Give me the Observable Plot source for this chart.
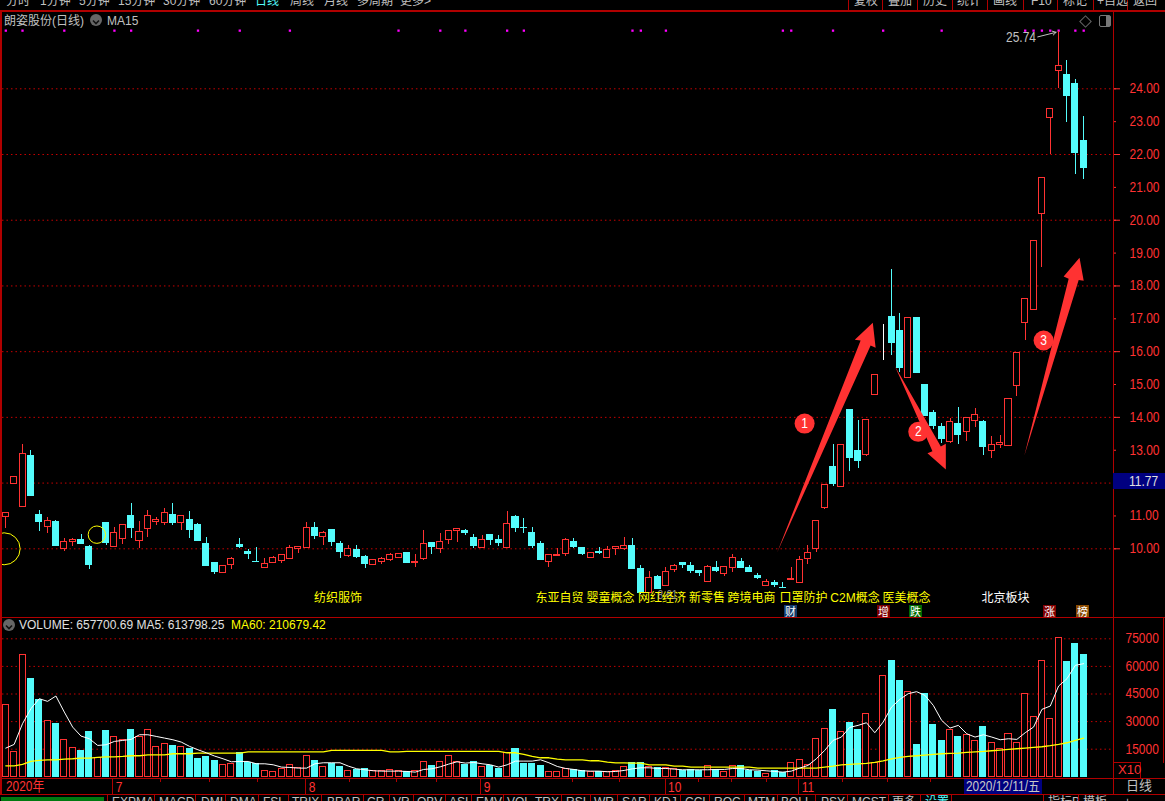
<!doctype html>
<html><head><meta charset="utf-8">
<script src="https://cdn.jsdelivr.net/npm/d3@7"></script>
<script src="https://cdn.jsdelivr.net/npm/@observablehq/plot@0.6"></script>
<style>
html,body{margin:0;padding:0;background:#000;overflow:hidden}
#root{position:relative;width:1165px;height:801px;overflow:hidden;background:#000;font-family:"Liberation Sans","Noto Sans CJK SC",sans-serif}
#root>svg{position:absolute;left:0;background:transparent;max-width:none}
.t{position:absolute;white-space:nowrap;font-size:12px;line-height:14px;color:#c0c0c0;transform-origin:left center}
.b{position:absolute;background:#b00000}
</style></head><body><div id="root"></div>
<script>
const opens=[10.96,11.97,11.27,12.81,11.04,10.66,10.83,9.99,10.21,10.28,10.07,10.49,10.80,10.07,10.29,11.01,10.23,10.60,10.81,10.78,11.04,10.78,10.89,10.71,10.16,9.58,9.26,9.50,10.13,9.89,9.61,9.41,9.56,9.62,9.69,9.99,10.02,10.62,10.35,10.56,10.16,9.77,9.95,9.74,9.52,9.59,9.66,9.72,9.86,9.58,9.69,10.19,9.99,10.26,10.55,10.53,10.34,10.02,10.41,10.28,10.02,10.98,10.63,10.47,10.16,9.61,9.77,9.84,10.22,10.01,9.72,9.89,9.72,9.99,9.99,10.10,9.40,8.67,9.13,8.86,9.36,9.58,9.49,9.31,8.99,9.43,9.24,9.41,9.61,9.43,9.16,8.88,8.95,8.82,9.05,8.96,9.69,9.99,11.25,12.50,11.87,14.22,12.98,12.86,14.69,16.82,17.04,16.62,15.20,17.01,14.98,14.13,13.71,13.25,13.80,13.54,13.89,13.86,12.99,13.15,13.14,14.97,16.86,17.28,20.20,23.11,24.54,24.43,24.16,22.40];
const closes=[11.10,12.19,12.89,11.60,10.81,10.85,10.10,10.21,10.27,10.16,9.52,10.49,10.19,10.49,10.73,10.63,10.52,11.00,10.88,11.10,10.80,11.00,10.56,10.25,9.49,9.28,9.49,9.68,10.07,9.83,9.60,9.54,9.73,9.82,10.03,10.04,10.62,10.38,10.47,10.20,9.89,9.98,9.74,9.55,9.67,9.68,9.82,9.85,9.58,9.61,10.15,10.07,10.21,10.55,10.61,10.48,10.10,10.27,10.28,10.19,10.76,10.62,10.62,10.10,9.65,9.80,9.82,10.27,10.04,9.83,9.88,9.86,9.97,10.06,10.09,9.40,8.67,9.10,8.79,9.30,9.48,9.50,9.31,9.26,9.46,9.31,9.45,9.73,9.43,9.28,9.10,9.00,8.91,8.80,9.09,9.67,9.88,10.85,11.95,11.96,13.17,12.77,12.68,13.91,15.30,16.82,16.25,15.49,17.03,15.34,14.04,13.74,13.34,13.85,13.46,13.97,14.06,13.10,13.15,13.22,14.56,15.97,17.59,19.37,21.28,23.39,24.70,23.78,22.04,21.59];
const highs=[11.10,12.19,13.17,12.99,11.17,10.94,10.86,10.31,10.31,10.44,10.10,10.49,10.80,10.65,10.73,11.38,10.83,11.17,10.95,11.23,11.38,11.00,11.14,10.77,10.34,9.58,9.49,9.74,10.31,9.98,10.04,9.71,9.76,9.82,10.09,10.07,10.80,10.80,10.53,10.59,10.22,10.10,10.10,9.80,9.67,9.74,9.86,9.85,9.89,9.83,10.56,10.19,10.47,10.55,10.61,10.59,10.44,10.41,10.41,10.41,11.14,11.01,10.92,10.65,10.22,9.83,10.01,10.30,10.31,10.01,9.88,10.04,10.07,10.06,10.34,10.31,9.49,9.31,9.19,9.43,9.52,9.58,9.58,9.34,9.49,9.61,9.45,9.83,9.71,9.49,9.25,9.07,9.04,8.98,9.43,9.77,10.10,10.85,11.95,13.17,13.17,14.25,13.92,13.91,15.30,16.82,18.49,17.16,17.03,17.01,15.01,14.22,13.80,13.98,14.31,13.97,14.28,13.92,13.43,13.46,14.56,15.97,17.59,19.37,21.28,23.39,25.74,24.86,24.28,23.16];
const lows=[10.63,11.97,11.27,11.60,10.53,10.48,10.08,9.93,10.08,10.13,9.38,10.49,10.10,10.04,10.13,10.31,10.01,10.34,10.71,10.71,10.71,10.56,10.31,10.22,9.46,9.22,9.26,9.37,10.01,9.68,9.60,9.41,9.56,9.56,9.69,9.86,10.02,10.28,10.10,10.07,9.71,9.74,9.71,9.40,9.49,9.53,9.61,9.72,9.58,9.43,9.65,9.83,9.86,10.13,10.19,10.41,10.01,10.02,10.10,10.07,10.02,10.50,10.47,10.01,9.65,9.43,9.77,9.77,10.01,9.80,9.72,9.83,9.72,9.80,9.96,9.40,8.61,8.64,8.79,8.86,9.29,9.40,9.25,9.16,8.99,9.28,9.16,9.28,9.43,9.28,9.07,8.88,8.82,8.80,9.05,8.96,9.52,9.89,11.19,11.90,11.87,12.34,12.43,12.80,14.69,15.74,15.89,15.37,15.20,15.34,14.04,13.62,13.22,13.22,13.16,13.28,13.68,12.83,12.74,13.04,13.14,14.63,16.34,17.28,18.57,22.00,24.00,22.98,21.40,21.25];
const volumes=[39180,13600,66390,52970,41540,30480,28480,20135,15780,13790,24130,10160,24670,21770,20135,25215,21770,25215,16330,17960,16510,16330,14875,9430,10520,8345,6530,7075,13060,7255,6710,3265,2720,4350,6530,4715,11430,8345,5440,6710,5080,3265,3450,4350,2900,2900,3810,2900,2540,3080,8160,5620,8160,11430,8160,6170,8160,5440,5620,3990,13060,14875,6890,6890,5620,2720,2720,4350,3810,3080,2720,2360,2540,3080,5440,7255,7255,5440,4535,4535,4350,3080,3810,2900,5990,3810,2720,5990,5620,2900,2360,1630,2900,2000,7620,9250,6350,20680,25760,36100,24130,29020,25215,34285,7620,54600,62760,51880,46260,17050,44990,27940,19230,25580,21400,22490,19590,26850,18500,15240,23400,18500,45170,32650,63130,31560,75640,62220,72020,66030];
const ma5=[15600,17600,28840,37000,42450,41000,43900,35190,27030,22130,20680,17050,17410,19230,19770,20320,22860,22860,21950,21040,20135,18870,16510,14690,13060,11250,9800,8160,8340,8340,7075,7075,6530,5260,5080,4720,4720,7075,7620,7620,7620,5800,4350,3810,3265,3080,3080,3080,2900,2540,3990,4350,5440,6890,8160,7440,7800,7075,6530,5260,6530,8530,8530,8530,9250,7620,5620,4535,3990,3265,3080,3080,2720,2900,3450,4350,4900,4900,4535,4535,4170,3810,3810,3810,3810,3990,3990,4535,4535,3810,3630,3265,2900,2540,3080,4720,6170,9800,14330,19770,21590,26850,27940,29390,23950,29750,37910,42080,45170,46260,44260,38820,30660,26480,27940,23400,21590,22860,21590,20135,20680,20320,23950,27030,36640,38460,49340,53330,60590,61490];
const ma60=[5990,5990,6710,8340,8890,9250,9250,9610,9800,10160,10160,10520,10880,10880,11070,11430,11430,11970,11970,11970,12520,12520,12520,12880,12880,12880,12880,12880,12880,13600,13600,13600,13600,13600,13600,13600,13600,13600,13600,14330,14330,14330,14330,14330,14330,14330,13600,13600,13790,13790,13790,13790,13790,13790,13790,13790,13790,13790,13790,13790,13060,13060,12150,11070,10340,10340,9610,9250,9250,9250,8710,8710,7980,7620,7620,7440,7440,6530,6530,6530,5800,5800,5260,5260,5260,5260,5260,5260,5260,5260,4720,4720,4720,4720,4720,4720,4720,4720,5260,5800,6530,6700,7075,7260,7800,8700,9800,10500,11070,11430,11800,12150,12520,12700,12880,13240,13600,13800,14150,14500,14900,15240,15600,15960,16330,16900,17600,18500,19770,21040];
const signalDays=[0,2,7,13,15,23,28,34,47,52,55,60,62,75,76,79,93,94,99,105,112,122,123,124,125,126,128,129];
const priceTicks=[10,11,13,14,15,16,17,18,19,20,21,22,23,24];
const priceGrid=[10,12,14,16,18,20,22,24];
const volumeTicks=[15000,30000,45000,60000,75000];
const conceptNames=["纺织服饰","东亚自贸","婴童概念","网红经济","新零售","跨境电商","口罩防护","C2M概念","医美概念","北京板块"];
const conceptDays=[39.76,66.27,72.37,78.53,83.91,89.24,95.46,101.63,107.79,119.64];
const monthNames=["7","8","9","10","11"];
const monthDays=[12.8,35.9,56.85,78.9,94.9];
const minorDays=[18.5,24.4,30.1,41.1,46.8,51.6,67.8,73.4,82.9,86.9,91,100.1,105.5,110.7];
const arrowOne=[[92.3,9.88],[102.3,16.34],[101.6,16.36],[103.76,16.88],[104.1,16.12],[103.5,16.19]];
const arrowTwo=[[106.4,15.56],[111.9,13.11],[112.5,13.2],[112.5,12.41],[110.3,12.91],[110.9,12.97]];
const arrowThree=[[121.9,12.84],[127.2,18.22],[126.6,18.29],[128.5,18.86],[129,18.16],[128.4,18.18]];
const badgeDays=[95.6,109.2,124.2];
const badgePrices=[13.81,13.56,16.34];
const badgeText=["1","2","3"];
const periodNames=["分时","1分钟","5分钟","15分钟","30分钟","60分钟","日线","周线","月线","多周期","更多>"];
const toolNames=["复权","叠加","历史","统计","画线","F10","标记","+自选","返回"];
const indicatorNames=["EXPMA","MACD","DMI","DMA","FSL","TRIX","BRAR","CR","VR","OBV","ASI","EMV","VOL-TRX","RSI","WR","SAR","KDJ","CCI","ROC","MTM","BOLL","PSY","MCST","更多","设置","指标B","模板","+"];

const RED="#ff3232",CYAN="#54fcfc",SANS='"Liberation Sans","Noto Sans CJK SC",sans-serif';
const days=opens.map((o,i)=>({i,o,c:closes[i],h:highs[i],l:lows[i],v:volumes[i],ma5:ma5[i],ma60:ma60[i],
  up:closes[i]>opens[i],flat:closes[i]===opens[i]}));
const tone=d=>d.flat?"#ffffff":d.up?RED:CYAN;
const xs={domain:[0,129],range:[5.3,1083.2]};
const root=document.getElementById("root");
const hw=0.36;
const poly=a=>Plot.line(a,{x:d=>d[0],y:d=>d[1],fill:RED,stroke:"none"});

const price=Plot.plot({
  width:1165,height:607,marginLeft:0,marginRight:52,marginTop:0,marginBottom:0,
  x:{...xs,axis:null},
  y:{domain:[10,24],range:[537.3,77.3]},
  style:{background:"transparent",fontFamily:SANS},
  marks:[
    Plot.ruleY(priceGrid,{stroke:"#c80000",strokeDasharray:"1.5,3",x1:-0.4,x2:132.5}),
    Plot.axisY(priceTicks,{anchor:"right",tickSize:2,tickFormat:()=>"",label:null,color:RED}),
    Plot.axisY(priceTicks.filter(t=>t%2===0),{anchor:"right",tickSize:6,tickFormat:()=>"",label:null,color:RED}),
    Plot.axisY(priceTicks,{anchor:"right",tickSize:0,tickPadding:16,tickFormat:d=>d.toFixed(2),label:null,color:RED,fontSize:14}),
    Plot.dot(signalDays,{x:d=>d,y:()=>25.77,symbol:"square",r:1.3,fill:"#ff00ff"}),
    Plot.ruleX(days,{x:"i",y1:"l",y2:"h",stroke:tone,strokeWidth:1,shapeRendering:"crispEdges"}),
    Plot.rect(days,{x1:d=>d.i-hw,x2:d=>d.i+hw,y1:"o",y2:"c",fill:d=>d.up?"#000":tone(d),stroke:tone,strokeWidth:1,shapeRendering:"crispEdges"}),
    Plot.dot([[-0.2,10]],{x:d=>d[0],y:d=>d[1],r:16,stroke:"#ffff00",fill:"none",strokeWidth:1}),
    Plot.dot([[10.9,10.43]],{x:d=>d[0],y:d=>d[1],r:8.7,stroke:"#ffff00",fill:"none",strokeWidth:1}),
    poly(arrowOne),poly(arrowTwo),poly(arrowThree),
    Plot.dot(badgeDays,{x:d=>d,y:(d,i)=>badgePrices[i],r:10,fill:RED}),
    Plot.text(badgeText,{x:(d,i)=>badgeDays[i],y:(d,i)=>badgePrices[i],text:d=>d,fill:"#fff",fontSize:14}),
    Plot.text(["8.61"],{x:()=>79.2,y:()=>8.6,text:d=>d,fill:"#909090",fontSize:12}),
    Plot.text(conceptNames,{x:(d,i)=>conceptDays[i],y:()=>8.49,text:d=>d,fill:(d,i)=>i===9?"#ffffff":"#ffff00",fontSize:12}),
    Plot.text(["25.74"],{x:()=>121.5,y:()=>25.55,text:d=>d,fill:"#c0c0c0",fontSize:14}),
    Plot.arrow([1],{x1:()=>123.5,y1:()=>25.58,x2:()=>125.7,y2:()=>25.72,stroke:"#c0c0c0",strokeWidth:1,headLength:6}),
  ]
});
price.style.top="11px";root.appendChild(price);

const volume=Plot.plot({
  width:1165,height:176,marginLeft:0,marginRight:52,marginTop:0,marginBottom:16,
  x:{...xs,axis:null},
  y:{domain:[0,75000],range:[158.3,20.3]},
  style:{background:"transparent",fontFamily:SANS},
  marks:[
    Plot.ruleY(volumeTicks,{stroke:"#c80000",strokeDasharray:"1.5,3",x1:-0.4,x2:132.5}),
    Plot.axisY(volumeTicks,{anchor:"right",tickSize:0,tickPadding:12,tickFormat:d=>String(d),label:null,color:RED,fontSize:14}),
    Plot.rect(days,{x1:d=>d.i-hw,x2:d=>d.i+hw,y1:()=>0,y2:"v",fill:d=>(d.up||d.flat)?"#000":CYAN,stroke:d=>(d.up||d.flat)?RED:CYAN,strokeWidth:1,shapeRendering:"crispEdges"}),
    Plot.line(days,{x:"i",y:"ma60",stroke:"#ffff00",strokeWidth:1.3}),
    Plot.line(days,{x:"i",y:"ma5",stroke:"#ffffff",strokeWidth:1}),
    Plot.text(monthNames,{x:(d,i)=>monthDays[i],text:d=>d,frameAnchor:"bottom",dy:13,dx:3,textAnchor:"start",fill:RED,fontSize:14}),
  ]
});
volume.style.top="618px";root.appendChild(volume);

// the terminal's digits are narrow: condense all numeric labels
for(const svg of [price,volume]) svg.querySelectorAll("text").forEach(t=>{
  if(/^[\d.]+$/.test(t.textContent.trim())){
    const len=t.getComputedTextLength();
    if(len>0){t.setAttribute("textLength",(len*0.855).toFixed(1));t.setAttribute("lengthAdjust","spacingAndGlyphs");}
  }
});

function line(x,y,w,h,c){const d=document.createElement("div");d.className="b";d.style.cssText=`left:${x}px;top:${y}px;width:${w}px;height:${h}px;${c?"background:"+c:""}`;root.appendChild(d);return d}
function txt(x,y,s,c,extra){const d=document.createElement("div");d.className="t";d.style.cssText=`left:${x}px;top:${y}px;${c?"color:"+c+";":""}${extra||""}`;d.textContent=s;root.appendChild(d);return d}

// frame
line(0,10,1165,1.5);line(0,10,1.5,784);line(1113,10,1,784);
line(0,617,1165,1);line(0,778,1165,1);line(0,794,1165,1);
line(1163,618,1,145);line(1113,762,27,1);line(1140,762,1,16);
monthDays.forEach(d=>line(5.3+d*8.356,778,1,16));
minorDays.forEach(d=>line(5.3+d*8.356,779,1,3));

// period and tool bars (clipped by the window top)
[6,40,79,118,163,209,255,290,324,357,400].forEach((x,i)=>txt(x,-6,periodNames[i],i===6?CYAN:"#c0c0c0"));
[848,882,917,952,987,1023,1057,1093,1127].forEach(x=>line(x,0,1,10));
[854,888,923,957,993,1031,1063,1097,1133].forEach((x,i)=>txt(x,-6,toolNames[i]));

// legends
txt(4,14,"朗姿股份(日线)");
const ic=(x,y)=>{const d=line(x,y,12,12,"#666");d.style.borderRadius="6px";d.innerHTML='<svg width="12" height="12"><path d="M3 4.5 L6 7.5 L9 4.5" fill="none" stroke="#111" stroke-width="1.6"/></svg>'};
ic(90,14);ic(3,619);
txt(107,14,"MA15");
txt(19,618,"VOLUME: 657700.69  MA5: 613798.25","#e0e0e0");
txt(231,618,"MA60: 210679.42","#ffff00");

// corner icons
const diamond=document.createElement("div");diamond.style.cssText="position:absolute;left:1081px;top:17px;width:7px;height:7px;border:1px solid #666;transform:rotate(45deg)";root.appendChild(diamond);
const sq=document.createElement("div");sq.style.cssText="position:absolute;left:1099px;top:15px;width:10px;height:10px;border:1px solid #777;border-radius:2px;background:linear-gradient(90deg,#000 55%,#777 55%)";root.appendChild(sq);

// current price box
line(1113,473,52,16,"#000080");
txt(1129,474,"11.77","#e0e0e0","font-size:14px;transform:scaleX(.855)");

// event tags
const tag=(x,s,c,bg)=>{const d=line(x,605,13,12,bg);d.style.color=c;d.style.fontSize="11px";d.style.lineHeight="12px";d.style.textAlign="center";d.style.fontFamily='"Noto Sans CJK SC",sans-serif';d.textContent=s};
tag(784,"财","#ffffff","#123a6a");tag(877,"增","#ffffff","#7a0000");tag(909,"跌","#ffffff","#006a00");tag(1043,"涨","#ffffff","#800000");tag(1076,"榜","#ffffff","#8a4a00");

// date strip
txt(6,779,"2020年",RED,"font-size:14px;transform:scaleX(.85)");
line(964,779,78,15,"#000080");
txt(966,779,"2020/12/11/五","#c8c8c8","font-size:14px;transform:scaleX(.85)");
txt(1126,779,"日线","#c0c0c0","font-size:13px");
txt(1118,763,"X10",RED,"font-size:13px");

// bottom tabs (clipped by the window bottom)
line(1,797,103,4,"#007a10");
[112,159,201,230,263,292,327,367,393,417,449,476,507,566,594,622,654,685,714,748,781,821,852,892,925,1048,1083,1124].forEach((x,i)=>{const t=txt(x,795,indicatorNames[i],indicatorNames[i]==="设置"?CYAN:"#c0c0c0");});
[107,154,195,225,258,288,321,363,389,413,445,471,503,561,590,617,649,680,709,744,777,815,847,888,920,951,1043,1078].forEach(x=>line(x,794,1,7));
</script></body></html>
